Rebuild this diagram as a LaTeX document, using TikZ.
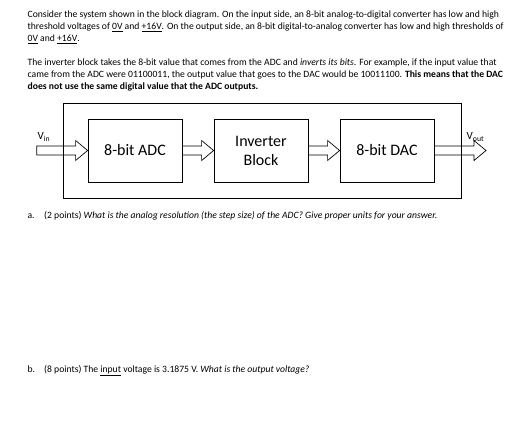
\documentclass[tikz,border=0pt]{standalone}
\usepackage{fontspec}
\setmainfont{Carlito}
\usetikzlibrary{calc}
\begin{document}
\begin{tikzpicture}[x=1pt,y=-1pt,
  body/.style={anchor=base west,inner sep=0pt,font=\fontsize{9.65}{11}\selectfont},
  blk/.style={draw,line width=0.8pt,minimum width=94pt,minimum height=63pt,inner sep=0pt,align=center,font=\fontsize{16}{19}\selectfont},
  frame/.style={draw,line width=0.8pt},
  barrow/.style={draw,line width=0.7pt,line join=miter},
  lbl/.style={anchor=base west,inner sep=0pt,font=\fontsize{11}{13}\selectfont}]
\useasboundingbox (0,0) rectangle (517,447);
\fill[white] (0,0) rectangle (517,447);
% text
\node[body] (l1) at (27.5,17) {Consider the system shown in the block diagram. On the input side, an 8-bit analog-to-digital converter has low and high};
\node[body] (l2) at (27.5,29.3) {threshold voltages of \underline{0V} and \underline{+16V}. On the output side, an 8-bit digital-to-analog converter has low and high thresholds of};
\node[body] (l3) at (27.5,41.3) {\underline{0V} and \underline{+16V}.};
\node[body] (l4) at (27.5,65.3) {The inverter block takes the 8-bit value that comes from the ADC and \textit{inverts its bits}. For example, if the input value that};
\node[body] (l5) at (27.5,77.3) {came from the ADC were 01100011, the output value that goes to the DAC would be 10011100. \textbf{This means that the DAC}};
\node[body] (l6) at (27.5,89.3) {\textbf{does not use the same digital value that the ADC outputs.}};
% frame
\node[frame,minimum width=398pt,minimum height=95pt,inner sep=0pt] (sys) at (262,150.5) {};
% blocks
\node[blk] (adc) at (135,150.5) {8-bit ADC};
\node[blk] (inv) at (261,150.5) {Inverter\\Block};
\node[blk] (dac) at (387,150.5) {8-bit DAC};
\coordinate (vin) at (36.7,150.5);
\coordinate (vout) at (486,150.5);
\node[lbl] (vinl) at (37.5,139.5) {V\textsubscript{in}};
\node[lbl] (voutl) at (466.5,139.5) {V\textsubscript{out}};
% block arrows
\newcommand{\blockarrow}[2]{%
  \draw[barrow] ($(#1)+(0,-4.5)$) -- ($(#2)+(-12,-4.5)$) -- ($(#2)+(-12,-10)$) -- (#2)
    -- ($(#2)+(-12,10)$) -- ($(#2)+(-12,4.5)$) -- ($(#1)+(0,4.5)$) -- cycle;}
\blockarrow{vin}{adc.west}
\blockarrow{adc.east}{inv.west}
\blockarrow{inv.east}{dac.west}
\blockarrow{dac.east}{vout}
% questions
\node[body] (qa) at (27.3,218.3) {a.};
\node[body] (qat) at (44,218.3) {(2 points) \textit{What is the analog resolution (the step size) of the ADC? Give proper units for your answer.}};
\node[body] (qb) at (27.3,372.3) {b.};
\node[body] (qbt) at (44,372.3) {(8 points) The \underline{input} voltage is 3.1875 V. \textit{What is the output voltage?}};
\end{tikzpicture}
\end{document}
